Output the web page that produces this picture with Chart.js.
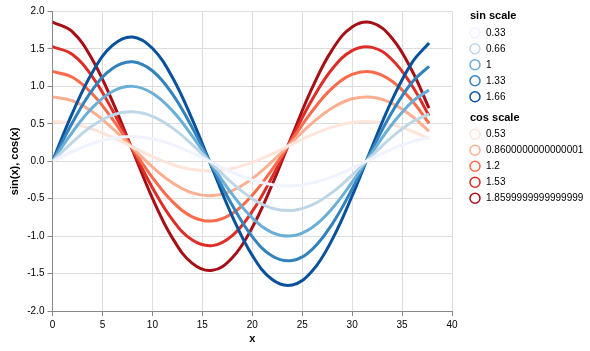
<!DOCTYPE html>
<html lang="en">
<head>
    <meta charset="UTF-8" />
    <title>sin / cos scale</title>
    <script src="https://cdn.jsdelivr.net/npm/chart.js"></script>
    <style>
        html, body { margin: 0; padding: 0; background: #fff; }
        #wrap { width: 590px; height: 351px; position: relative; }
    </style>
</head>
<body>
<div id="wrap"><canvas id="chart"></canvas></div>

<script>
    // values
    const xValues = [0, 2, 4, 6, 8, 10, 12, 14, 16, 18, 20, 22, 24, 26, 28, 30, 32, 34, 36, 37.7];

    const sinLabels = ['0.33', '0.66', '1', '1.33', '1.66'];
    const cosLabels = ['0.53', '0.8600000000000001', '1.2', '1.53', '1.8599999999999999'];

    const sin033 = [0, 0.128, 0.237, 0.308, 0.330, 0.300, 0.223, 0.111, -0.019, -0.146, -0.250, -0.314, -0.329, -0.292, -0.208, -0.092, 0.039, 0.163, 0.262, 0.314];
    const sin066 = [0, 0.257, 0.473, 0.615, 0.660, 0.600, 0.446, 0.221, -0.039, -0.292, -0.500, -0.628, -0.657, -0.583, -0.417, -0.184, 0.077, 0.326, 0.524, 0.628];
    const sin100 = [0, 0.389, 0.717, 0.932, 1.000, 0.909, 0.676, 0.335, -0.058, -0.443, -0.757, -0.952, -0.996, -0.884, -0.631, -0.279, 0.117, 0.494, 0.794, 0.952];
    const sin133 = [0, 0.517, 0.954, 1.240, 1.330, 1.209, 0.899, 0.446, -0.077, -0.589, -1.007, -1.266, -1.325, -1.176, -0.839, -0.371, 0.156, 0.657, 1.056, 1.266];
    const sin166 = [0, 0.646, 1.190, 1.547, 1.660, 1.509, 1.122, 0.556, -0.096, -0.735, -1.257, -1.580, -1.653, -1.467, -1.047, -0.463, 0.194, 0.820, 1.318, 1.580];

    const cos053 = [0.530, 0.504, 0.430, 0.319, 0.190, 0.063, -0.043, -0.111, -0.129, -0.096, -0.016, 0.099, 0.229, 0.355, 0.456, 0.517, 0.528, 0.487, 0.401, 0.301];
    const cos086 = [0.860, 0.808, 0.660, 0.439, 0.181, -0.075, -0.286, -0.422, -0.459, -0.392, -0.232, -0.003, 0.258, 0.510, 0.712, 0.834, 0.855, 0.774, 0.601, 0.402];
    const cos120 = [1.200, 1.121, 0.897, 0.562, 0.171, -0.216, -0.537, -0.742, -0.798, -0.697, -0.454, -0.107, 0.288, 0.669, 0.976, 1.160, 1.193, 1.069, 0.808, 0.506];
    const cos153 = [1.530, 1.425, 1.127, 0.681, 0.161, -0.353, -0.780, -1.053, -1.127, -0.993, -0.670, -0.208, 0.317, 0.824, 1.232, 1.477, 1.521, 1.356, 1.009, 0.607];
    const cos186 = [1.860, 1.729, 1.357, 0.801, 0.152, -0.491, -1.023, -1.364, -1.457, -1.289, -0.886, -0.310, 0.346, 0.979, 1.488, 1.794, 1.848, 1.643, 1.209, 0.708];

    const yTicks = [-2, -1.5, -1, -0.5, 0, 0.5, 1, 1.5, 2];
    const xTicks = [0, 5, 10, 15, 20, 25, 30, 35, 40];

    const sinSeries = [sin033, sin066, sin100, sin133, sin166];
    const cosSeries = [cos053, cos086, cos120, cos153, cos186];

    const blues = ['#eff3ff', '#bdd7e7', '#6baed6', '#3182bd', '#08519c'];
    const reds = ['#fee5d9', '#fcae91', '#fb6a4a', '#de2d26', '#a50f15'];

    const FONT = "'Liberation Sans', Arial, Helvetica, sans-serif";

    function makeSet(vals, color) {
        return {
            data: xValues.map((x, i) => ({ x: x, y: vals[i] })),
            borderColor: color,
            borderWidth: 3,
            pointRadius: 0,
            fill: false,
            tension: 0.4
        };
    }

    const datasets = [];
    sinSeries.forEach((s, i) => datasets.push(makeSet(s, blues[i])));
    cosSeries.forEach((s, i) => datasets.push(makeSet(s, reds[i])));

    // two-group legend on the right
    const legendPlugin = {
        id: 'scaleLegend',
        afterDraw(chart) {
            const ctx = chart.ctx;
            const groups = [
                { title: 'sin scale', labels: sinLabels, colors: blues, top: 16 },
                { title: 'cos scale', labels: cosLabels, colors: reds, top: 117.5 }
            ];
            ctx.save();
            ctx.textBaseline = 'middle';
            ctx.textAlign = 'left';
            groups.forEach(g => {
                ctx.fillStyle = '#000';
                ctx.font = 'bold 11px ' + FONT;
                ctx.fillText(g.title, 470, g.top);
                ctx.font = '10px ' + FONT;
                g.labels.forEach((lab, i) => {
                    const cy = g.top + 16.7 + i * 16;
                    ctx.beginPath();
                    ctx.arc(475, cy, 5, 0, Math.PI * 2);
                    ctx.lineWidth = 1.5;
                    ctx.strokeStyle = g.colors[i];
                    ctx.stroke();
                    ctx.fillStyle = '#000';
                    ctx.fillText(lab, 486, cy + 0.5);
                });
            });
            ctx.restore();
        }
    };

    new Chart(document.getElementById('chart'), {
        type: 'line',
        data: { datasets: datasets },
        options: {
            responsive: true,
            maintainAspectRatio: false,
            animation: false,
            layout: { padding: { left: 0, top: 11.5, right: 138, bottom: 0 } },
            plugins: { legend: { display: false }, tooltip: { enabled: false } },
            scales: {
                x: {
                    type: 'linear',
                    min: 0,
                    max: 40,
                    afterBuildTicks: s => { s.ticks = xTicks.map(v => ({ value: v })); },
                    afterFit: s => { s.height = 40; },
                    grid: { color: '#ddd', tickColor: '#888', tickLength: 5 },
                    border: { color: '#888' },
                    ticks: { color: '#000', font: { family: FONT, size: 10 }, padding: 3, maxRotation: 0 },
                    title: { display: true, text: 'x', color: '#000', font: { family: FONT, size: 11, weight: 'bold' }, padding: { bottom: 5 } }
                },
                y: {
                    min: -2,
                    max: 2,
                    afterBuildTicks: s => { s.ticks = yTicks.map(v => ({ value: v })); },
                    afterFit: s => { s.width = 52.5; },
                    grid: { color: '#ddd', tickColor: '#888', tickLength: 5 },
                    border: { color: '#888' },
                    ticks: { color: '#000', font: { family: FONT, size: 10 }, padding: 3, callback: v => v.toFixed(1) },
                    title: { display: true, text: 'sin(x), cos(x)', color: '#000', font: { family: FONT, size: 11, weight: 'bold' }, padding: { top: 8 } }
                }
            }
        },
        plugins: [legendPlugin]
    });
</script>
</body>
</html>
